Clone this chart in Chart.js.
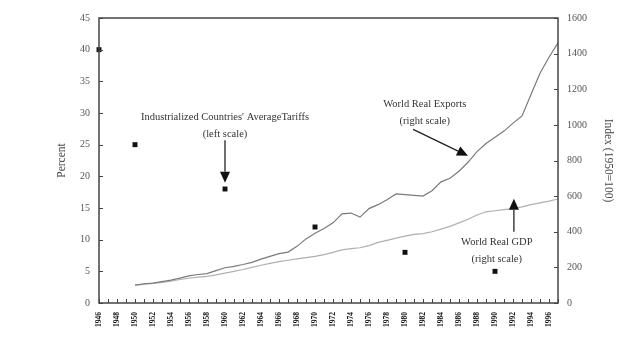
<!DOCTYPE html>
<html>
<head>
<meta charset="utf-8">
<script src="https://cdn.jsdelivr.net/npm/chart.js@4.4.0/dist/chart.umd.min.js"></script>
<style>
  body { margin: 0; background: #fff; }
  #wrap { width: 640px; height: 354px; }
</style>
</head>
<body>
<div id="wrap"><canvas id="myChart"></canvas></div>
<script>
/*** Datos */
var years = [1950, 1951, 1952, 1953, 1954, 1955, 1956, 1957, 1958, 1959,
             1960, 1961, 1962, 1963, 1964, 1965, 1966, 1967, 1968, 1969,
             1970, 1971, 1972, 1973, 1974, 1975, 1976, 1977, 1978, 1979,
             1980, 1981, 1982, 1983, 1984, 1985, 1986, 1987, 1988, 1989,
             1990, 1991, 1992, 1993, 1994, 1995, 1996, 1997];
var exportsIndex = [100, 108, 112, 120, 128, 140, 152, 160, 165, 182,
                    198, 206, 216, 228, 246, 262, 277, 286, 318, 360,
                    392, 418, 450, 500, 505, 482, 530, 552, 580, 612,
                    608, 604, 600, 630, 680, 700, 740, 790, 850, 895,
                    930, 965, 1010, 1050, 1170, 1290, 1380, 1460];
var gdpIndex = [100, 105, 110, 116, 122, 132, 139, 145, 150, 158,
                168, 178, 188, 200, 212, 222, 232, 240, 248, 255,
                262, 272, 284, 298, 305, 310, 322, 340, 352, 364,
                375, 385, 390, 400, 415, 430, 450, 470, 494, 512,
                518, 524, 530, 540, 552, 562, 572, 584];
var tariffYears = [1946, 1950, 1960, 1970, 1980, 1990];
var tariffs = [40, 25, 18, 12, 8, 5];

var xMin = 1946, xMax = 1997;
var leftTicks = [0, 45, 5];      // min, max, paso
var rightTicks = [0, 1600, 200];

// notas: [texto linea 1, texto linea 2, año, valor, escala]
var notes = [
  ["Industrialized Countries' AverageTariffs", "(left scale)", 1960, 29.4, 'yL'],
  ["World Real Exports", "(right scale)", 1982.2, 1118, 'yR'],
  ["World Real GDP", "(right scale)", 1990.2, 343, 'yR']
];
// flechas: [año desde, valor desde, año hasta, valor hasta, escala]
var arrows = [
  [1960, 25.7, 1960, 19.0, 'yL'],
  [1980.9, 975, 1987.0, 826, 'yR'],
  [1992.1, 400, 1992.1, 585, 'yR']
];

function pairs(xs, ys) {
  var out = [];
  for (var i = 0; i < xs.length; i++) out.push({x: xs[i], y: ys[i]});
  return out;
}

var serif = "'Liberation Serif', 'Times New Roman', serif";

/*** Plugin: marco, ticks hacia adentro, notas y flechas */
var extras = {
  id: 'extras',
  afterDatasetsDraw: function(chart) {
    var c = chart.ctx, a = chart.chartArea;
    var sx = chart.scales.x, sl = chart.scales.yL, sr = chart.scales.yR;
    c.save();
    c.strokeStyle = '#444';
    c.lineWidth = 1.5;
    c.strokeRect(a.left, a.top, a.right - a.left, a.bottom - a.top);
    c.lineWidth = 1;
    c.beginPath();
    sx.ticks.forEach(function(t) {
      var px = Math.round(sx.getPixelForValue(t.value)) + 0.5;
      c.moveTo(px, a.bottom); c.lineTo(px, a.bottom - 4);
    });
    sl.ticks.forEach(function(t) {
      var py = Math.round(sl.getPixelForValue(t.value)) + 0.5;
      c.moveTo(a.left, py); c.lineTo(a.left + 4, py);
    });
    sr.ticks.forEach(function(t) {
      var py = Math.round(sr.getPixelForValue(t.value)) + 0.5;
      c.moveTo(a.right, py); c.lineTo(a.right - 4, py);
    });
    c.stroke();

    c.fillStyle = '#333';
    c.font = '10.5px ' + serif;
    c.textAlign = 'center';
    c.textBaseline = 'middle';
    notes.forEach(function(n) {
      var s = chart.scales[n[4]];
      var px = sx.getPixelForValue(n[2]);
      var py = s.getPixelForValue(n[3]);
      c.fillText(n[0], px, py);
      c.fillText(n[1], px, py + 17);
    });

    c.strokeStyle = '#222';
    c.fillStyle = '#111';
    c.lineWidth = 1.3;
    arrows.forEach(function(r) {
      var s = chart.scales[r[4]];
      var x0 = sx.getPixelForValue(r[0]), y0 = s.getPixelForValue(r[1]);
      var x1 = sx.getPixelForValue(r[2]), y1 = s.getPixelForValue(r[3]);
      var ang = Math.atan2(y1 - y0, x1 - x0);
      var hl = 11, hw = 5;
      var bx = x1 - hl * Math.cos(ang), by = y1 - hl * Math.sin(ang);
      c.beginPath();
      c.moveTo(x0, y0); c.lineTo(bx, by);
      c.stroke();
      c.beginPath();
      c.moveTo(x1, y1);
      c.lineTo(bx + hw * Math.sin(ang), by - hw * Math.cos(ang));
      c.lineTo(bx - hw * Math.sin(ang), by + hw * Math.cos(ang));
      c.closePath();
      c.fill();
    });
    c.restore();
  }
};

var ctx = document.getElementById('myChart').getContext('2d');
var myChart = new Chart(ctx, {
  type: 'line',
  data: {
    datasets: [
      {
        label: 'World Real Exports',
        data: pairs(years, exportsIndex),
        yAxisID: 'yR',
        borderColor: '#7a7a7a',
        borderWidth: 1.2,
        pointRadius: 0,
        fill: false,
        tension: 0
      },
      {
        label: 'World Real GDP',
        data: pairs(years, gdpIndex),
        yAxisID: 'yR',
        borderColor: '#b0b0b0',
        borderWidth: 1.2,
        pointRadius: 0,
        fill: false,
        tension: 0
      },
      {
        type: 'scatter',
        label: 'Average Tariffs',
        data: pairs(tariffYears, tariffs),
        yAxisID: 'yL',
        showLine: false,
        clip: false,
        pointStyle: 'rect',
        pointRadius: 3.5,
        backgroundColor: '#111',
        borderColor: '#111',
        borderWidth: 0
      }
    ]
  },
  plugins: [extras],
  options: {
    responsive: true,
    maintainAspectRatio: false,
    animation: false,
    layout: { padding: { top: 18, left: 0, right: 0, bottom: 0 } },
    plugins: {
      legend: { display: false },
      tooltip: { enabled: false }
    },
    scales: {
      x: {
        type: 'linear',
        min: xMin,
        max: xMax,
        grid: { display: false, drawTicks: false },
        border: { display: false },
        afterFit: function(s) { s.height = 51; },
        afterBuildTicks: function(s) {
          var t = [];
          for (var y = xMin; y <= xMax; y++) t.push({value: y});
          s.ticks = t;
        },
        ticks: {
          autoSkip: false,
          minRotation: 90,
          maxRotation: 90,
          padding: 9,
          color: '#111',
          font: { family: serif, size: 7.5, weight: 'bold' },
          callback: function(v) { return (v % 2 === 0) ? String(v) : ''; }
        }
      },
      yL: {
        position: 'left',
        min: leftTicks[0],
        max: leftTicks[1],
        grid: { display: false, drawTicks: false },
        border: { display: false },
        afterFit: function(s) { s.width = 99; },
        ticks: {
          stepSize: leftTicks[2],
          padding: 9,
          color: '#555',
          font: { family: serif, size: 10 },
          callback: function(v) { return String(v); }
        },
        title: {
          display: true,
          text: 'Percent',
          color: '#444',
          padding: { top: 55, bottom: 0 },
          font: { family: serif, size: 11.5 }
        }
      },
      yR: {
        position: 'right',
        min: rightTicks[0],
        max: rightTicks[1],
        grid: { display: false, drawTicks: false },
        border: { display: false },
        afterFit: function(s) { s.width = 82; },
        ticks: {
          stepSize: rightTicks[2],
          padding: 9,
          color: '#555',
          font: { family: serif, size: 10 },
          callback: function(v) { return String(v); }
        },
        title: {
          display: true,
          text: 'Index (1950=100)',
          color: '#444',
          padding: { top: 25, bottom: 0 },
          font: { family: serif, size: 11.5 }
        }
      }
    }
  }
});
</script>
</body>
</html>
